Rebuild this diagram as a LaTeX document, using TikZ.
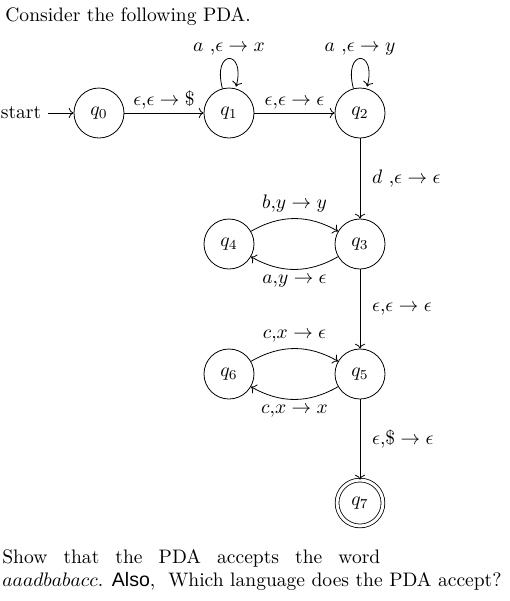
\documentclass[tikz,border=0pt]{standalone}
\usepackage{fontspec}
\newfontfamily\arialfont{Liberation Sans}
\usetikzlibrary{arrows.meta}
\tikzset{
  state/.style={circle,draw,line width=0.41pt,minimum size=25.6pt,inner sep=0pt},
  accstate/.style={state,double,double distance=1.5pt,minimum size=23.5pt},
  trans/.style={->,line width=0.41pt},
  lbl/.style={inner sep=1.5pt},
  blbl/.style={inner sep=2.8pt},
  txt/.style={anchor=base west,inner sep=0pt}
}
\begin{document}
\begin{tikzpicture}[x=0.512pt,y=0.512pt]
\useasboundingbox (0,0) rectangle (510,-601);
\node[txt] (title) at (5,-21) {Consider the following PDA.};

\node[state] (q0) at (99,-113) {$q_0$};
\node[state] (q1) at (229,-113) {$q_1$};
\node[state] (q2) at (360,-113) {$q_2$};
\node[state] (q3) at (360,-244) {$q_3$};
\node[state] (q4) at (229,-244) {$q_4$};
\node[state] (q5) at (360,-374) {$q_5$};
\node[state] (q6) at (229,-374) {$q_6$};
\node[accstate] (q7) at (360,-503) {$q_7$};
\node[inner sep=3.3pt] (start) at (21,-113) {start};

\draw[trans] (start) -- (q0);
\draw[trans] (q0) -- node[lbl,above] {$\epsilon{,}\epsilon\rightarrow\$$} (q1);
\draw[trans] (q1) -- node[lbl,above] {$\epsilon{,}\epsilon\rightarrow\epsilon$} (q2);
\path[trans] (q1) edge[loop above] node[lbl,above] {$a\ {,}\epsilon\rightarrow x$} (q1);
\path[trans] (q2) edge[loop above] node[lbl,above] {$a\ {,}\epsilon\rightarrow y$} (q2);
\draw[trans] (q2) -- node[lbl,right,xshift=4.5pt] {$d\ {,}\epsilon\rightarrow\epsilon$} (q3);
\draw[trans] (q4) to[bend left=30] node[blbl,above] {$b{,}y\rightarrow y$} (q3);
\draw[trans] (q3) to[bend left=30] node[blbl,below] {$a{,}y\rightarrow\epsilon$} (q4);
\draw[trans] (q3) -- node[lbl,right,xshift=4.5pt] {$\epsilon{,}\epsilon\rightarrow\epsilon$} (q5);
\draw[trans] (q6) to[bend left=30] node[blbl,above] {$c{,}x\rightarrow\epsilon$} (q5);
\draw[trans] (q5) to[bend left=30] node[blbl,below] {$c{,}x\rightarrow x$} (q6);
\draw[trans] (q5) -- node[lbl,right,xshift=4.5pt] {$\epsilon{,}\$\rightarrow\epsilon$} (q7);

\node[txt] (line1) at (2,-563) {\makebox[193.5pt][s]{Show that the PDA accepts the word}};
\node[txt] (line2) at (2,-586) {$aaadbabacc$. {\arialfont Also}, \ Which language does the PDA accept?};
\end{tikzpicture}
\end{document}
